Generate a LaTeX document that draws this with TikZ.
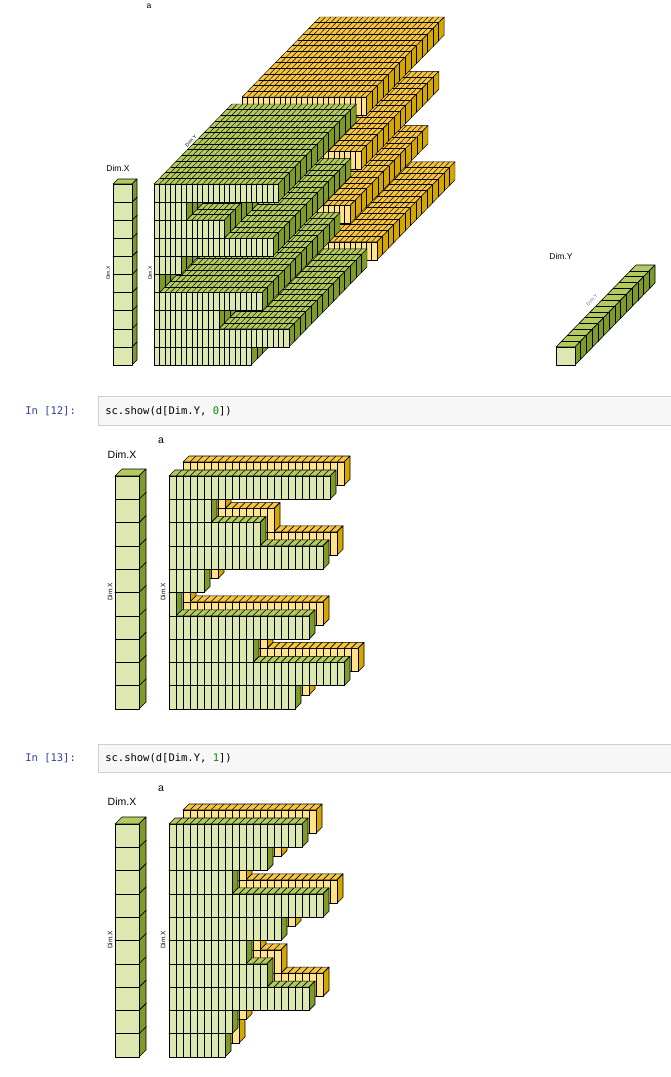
\documentclass[tikz,border=0pt]{standalone}
\usepackage{fontspec}
\setmainfont{Liberation Sans}
\setmonofont{DejaVu Sans Mono}
\definecolor{gF}{HTML}{DDE8B0}
\definecolor{gT}{HTML}{B3CB5C}
\definecolor{gS}{HTML}{7E9B2A}
\definecolor{yF}{HTML}{FFE38A}
\definecolor{yT}{HTML}{F7C63C}
\definecolor{yS}{HTML}{D4A600}
\definecolor{inblue}{HTML}{303F9F}
\definecolor{boxbg}{HTML}{F7F7F7}
\definecolor{boxln}{HTML}{CFCFCF}
\definecolor{numgreen}{HTML}{008800}
% #1 x, #2 y, #3 ncells, #4 cell width, #5 height, #6 dx, #7 dy, #8 ndepth, #9 scheme
\newcommand\boxrow[9]{%
  \pgfmathsetmacro\W{#3*#4}%
  \filldraw[fill=#9T] (#1,#2) -- ++(\W,0) -- ++(#6,#7) -- ++(-\W,0) -- cycle;
  \foreach \i in {1,...,#3}{\draw (#1+\i*#4,#2) -- ++(#6,#7);}
  \ifnum#8>1
    \foreach \j in {1,...,\numexpr#8-1\relax}{\draw (#1+\j*#6/#8,#2+\j*#7/#8) -- ++(\W,0);}
  \fi
  \filldraw[fill=#9S] (#1+\W,#2) -- ++(0,#5) -- ++(#6,#7) -- ++(0,-#5) -- cycle;
  \ifnum#8>1
    \foreach \j in {1,...,\numexpr#8-1\relax}{\draw (#1+\W+\j*#6/#8,#2+\j*#7/#8) -- ++(0,#5);}
  \fi
  \filldraw[fill=#9F] (#1,#2) rectangle ++(\W,#5);
  \foreach \i in {1,...,#3}{\draw (#1+\i*#4,#2) -- ++(0,#5);}
}
\tikzset{lbl/.style={font=\fontsize{8.5}{10}\selectfont, inner sep=0pt},
  big/.style={font=\fontsize{10.5}{12}\selectfont, inner sep=0pt},
  tiny/.style={font=\fontsize{5}{6}\selectfont, inner sep=0pt},
  small/.style={font=\fontsize{6.5}{7}\selectfont, inner sep=0pt},
  code/.style={font=\ttfamily\fontsize{10.5}{12}\selectfont, anchor=west, inner sep=0pt},
  prompt/.style={font=\ttfamily\fontsize{10.5}{12}\selectfont, text=inblue, anchor=west, inner sep=0pt}}
\begin{document}
\begin{tikzpicture}[x=1pt,y=-1pt,line width=0.6pt,line join=round]
\useasboundingbox (0,0) rectangle (670,1077);
\fill[white] (0,0) rectangle (670,1077);
% ================= top panel =================
\node[lbl] (ta) at (149,6) {a};
\node[lbl] (tdx) at (118,168) {Dim.X};
\foreach \k in {9,...,0}{\boxrow{113}{184+\k*18.1}{1}{19}{18.1}{5}{-5}{1}{g}}
\node[tiny,rotate=90] (tdx1) at (108,273) {Dim.X};
\node[tiny,rotate=90] (tdx2) at (150,273) {Dim.X};
\def\Lt{{23,6,13,22,5,1,20,12,25,18}}
\begin{scope}[line width=0.45pt]
\foreach \k in {9,...,0}{
  \pgfmathtruncatemacro\n{\Lt[\k]}
  \boxrow{154+88}{184+\k*18.1-87}{\n}{5.4}{18.1}{78}{-80}{14}{y}}
\foreach \k in {9,...,0}{
  \pgfmathtruncatemacro\n{\Lt[\k]}
  \boxrow{154}{184+\k*18.1}{\n}{5.4}{18.1}{78}{-80}{14}{g}}
\end{scope}
\node[tiny,rotate=45] (tdy) at (191,141) {Dim.Y};
\node[lbl] (tdyl) at (561,256) {Dim.Y};
\boxrow{556}{347}{1}{19}{18}{80}{-82}{14}{g}
\node[tiny,rotate=45,text=inblue!70] (tdy2) at (592,300) {Dim.Y};
% ================= In [12] =================
\node[prompt] (p12) at (25,411) {In [12]:};
\filldraw[fill=boxbg,draw=boxln] (98,396) rectangle (672,425);
\node[code] (c12) at (105,411) {sc.show(d[Dim.Y, \textcolor{numgreen}{0}])};
\node[big] (ma) at (161,441) {a};
\node[big] (mdx) at (122,455) {Dim.X};
\foreach \k in {9,...,0}{\boxrow{115}{476+\k*23.3}{1}{24}{23.3}{7}{-7}{1}{g}}
\node[small,rotate=90] (mdx1) at (110,592) {Dim.X};
\node[small,rotate=90] (mdx2) at (163,592) {Dim.X};
\def\Lm{{23,6,13,22,5,1,20,12,25,18}}
\foreach \k in {9,...,0}{
  \pgfmathtruncatemacro\n{\Lm[\k]}
  \boxrow{183}{476+\k*23.3-14}{\n}{7}{23.3}{6}{-6}{1}{y}}
\foreach \k in {9,...,0}{
  \pgfmathtruncatemacro\n{\Lm[\k]}
  \boxrow{169}{476+\k*23.3}{\n}{7}{23.3}{6}{-6}{1}{g}}
% ================= In [13] =================
\node[prompt] (p13) at (25,758) {In [13]:};
\filldraw[fill=boxbg,draw=boxln] (98,744) rectangle (672,772);
\node[code] (c13) at (105,758) {sc.show(d[Dim.Y, \textcolor{numgreen}{1}])};
\node[big] (ba) at (161,789) {a};
\node[big] (bdx) at (122,802) {Dim.X};
\foreach \k in {9,...,0}{\boxrow{115}{824+\k*23.3}{1}{24}{23.3}{7}{-7}{1}{g}}
\node[small,rotate=90] (bdx1) at (110,940) {Dim.X};
\node[small,rotate=90] (bdx2) at (163,940) {Dim.X};
\def\Lb{{19,14,9,22,16,11,14,20,9,8}}
\foreach \k in {9,...,0}{
  \pgfmathtruncatemacro\n{\Lb[\k]}
  \boxrow{183}{824+\k*23.3-14}{\n}{7}{23.3}{6}{-6}{1}{y}}
\foreach \k in {9,...,0}{
  \pgfmathtruncatemacro\n{\Lb[\k]}
  \boxrow{169}{824+\k*23.3}{\n}{7}{23.3}{6}{-6}{1}{g}}
\end{tikzpicture}
\end{document}
